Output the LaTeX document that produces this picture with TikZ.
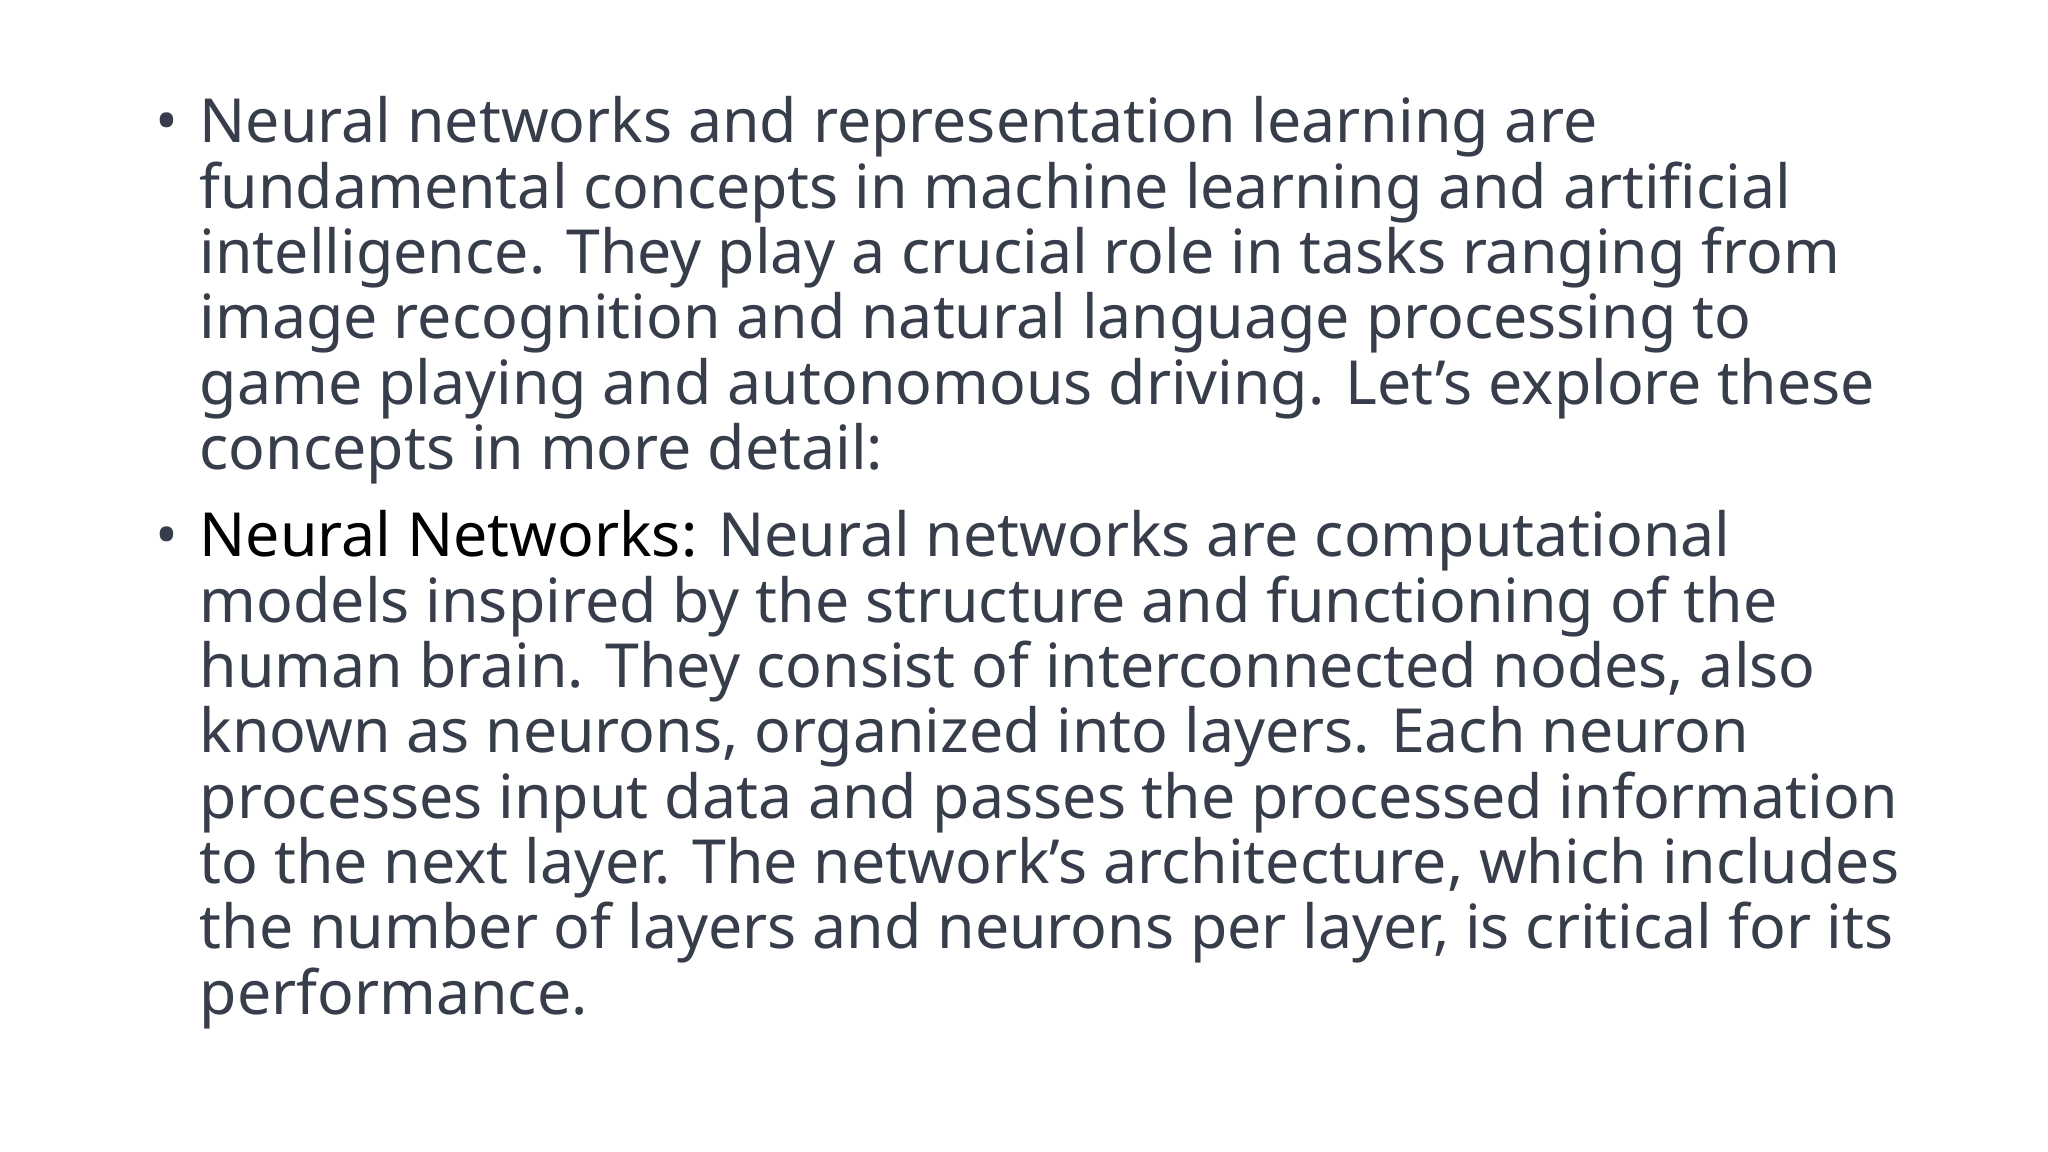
\documentclass[tikz,border=0pt]{standalone}
\usepackage{fontspec}
\setmainfont{Noto Sans}
\definecolor{txt}{HTML}{373D4B}
\begin{document}
\begin{tikzpicture}[x=1cm,y=1cm,
  ln/.style={anchor=base west,inner sep=0pt,text=txt,font=\fontsize{17.3pt}{20pt}\selectfont}]
\useasboundingbox[fill=white] (0,0) rectangle (20.48,-11.52);
\def\lx{1.99}
\node[ln] (b1) at (1.55,-1.43) {•};
\node[ln] (a1) at (\lx,-1.43) {Neural networks and representation learning are};
\node[ln] (a2) at (\lx,-2.083) {fundamental concepts in machine learning and artificial};
\node[ln] (a3) at (\lx,-2.736) {intelligence. They play a crucial role in tasks ranging from};
\node[ln] (a4) at (\lx,-3.389) {image recognition and natural language processing to};
\node[ln] (a5) at (\lx,-4.042) {game playing and autonomous driving. Let's explore these};
\node[ln] (a6) at (\lx,-4.695) {concepts in more detail:};
\node[ln] (b2) at (1.55,-5.57) {•};
\node[ln] (c1) at (\lx,-5.57) {\textcolor{black}{\bfseries Neural Networks:} Neural networks are computational};
\node[ln] (c2) at (\lx,-6.223) {models inspired by the structure and functioning of the};
\node[ln] (c3) at (\lx,-6.876) {human brain. They consist of interconnected nodes, also};
\node[ln] (c4) at (\lx,-7.529) {known as neurons, organized into layers. Each neuron};
\node[ln] (c5) at (\lx,-8.182) {processes input data and passes the processed information};
\node[ln] (c6) at (\lx,-8.835) {to the next layer. The network's architecture, which includes};
\node[ln] (c7) at (\lx,-9.488) {the number of layers and neurons per layer, is critical for its};
\node[ln] (c8) at (\lx,-10.141) {performance.};
\end{tikzpicture}
\end{document}
